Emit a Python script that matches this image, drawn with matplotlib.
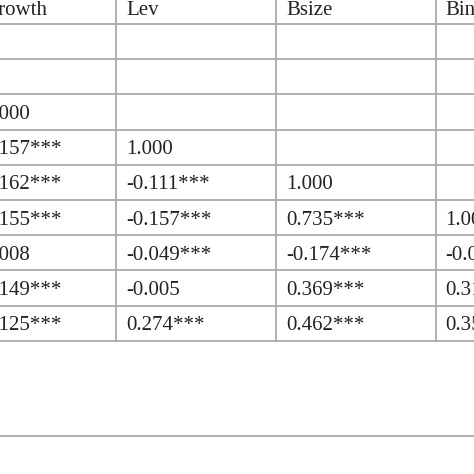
import matplotlib
matplotlib.use("Agg")
import matplotlib.pyplot as plt

headers = ["Growth", "Lev", "Bsize", "Bindep"]
col_growth = ["", "", "1.000", "0.157***", "0.162***", "0.155***", "0.008", "0.149***", "0.125***"]
col_lev = ["", "", "", "1.000", "-0.111***", "-0.157***", "-0.049***", "-0.005", "0.274***"]
col_bsize = ["", "", "", "", "1.000", "0.735***", "-0.174***", "0.369***", "0.462***"]
col_bindep = ["", "", "", "", "", "1.000", "-0.065***", "0.312***", "0.356***"]
columns = [col_growth, col_lev, col_bsize, col_bindep]

fig = plt.figure(figsize=(4.74, 4.74), dpi=100)
ax = fig.add_axes([0, 0, 1, 1])
ax.set_xlim(0, 474)
ax.set_ylim(474, 0)
ax.axis("off")

top = 24
rh = 35.2
nrows = len(col_growth)
lc = "#aaaaaa"
lw = 1.3
for i in range(nrows + 1):
    y = top + i * rh
    ax.plot([0, 474], [y, y], color=lc, lw=lw, solid_capstyle="butt")
ax.plot([0, 474], [436, 436], color=lc, lw=lw)
bottom = top + nrows * rh
for x in [116, 276, 436]:
    ax.plot([x, x], [0, bottom], color=lc, lw=lw)

xs = [-17, 126, 286, 445]
font = dict(family="Liberation Serif", fontsize=15, color="#222222")
for x, h in zip(xs, headers):
    ax.text(x, 10, h, ha="left", va="center", **font)
for x, col in zip(xs, columns):
    for i, v in enumerate(col):
        if v:
            ax.text(x, top + i * rh + 20, v, ha="left", va="center", **font)

fig.savefig("out.png", dpi=100)
